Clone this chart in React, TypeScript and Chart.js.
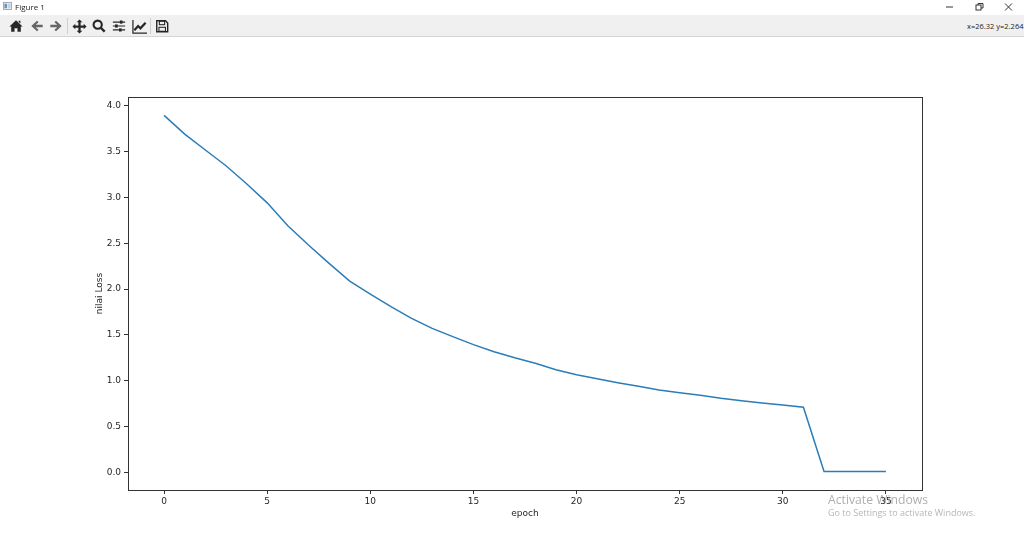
import React, { useEffect, useRef } from "react";
import { Chart, registerables } from "chart.js";

Chart.register(...registerables);

const epochs = [0, 1, 2, 3, 4, 5, 6, 7, 8, 9, 10, 11, 12, 13, 14, 15, 16, 17, 18, 19, 20, 21, 22, 23, 24, 25, 26, 27, 28, 29, 30, 31, 32, 33, 34, 35];
const lossValues = [3.895, 3.69, 3.517, 3.345, 3.148, 2.94, 2.69, 2.48, 2.28, 2.086, 1.945, 1.807, 1.68, 1.571, 1.48, 1.393, 1.316, 1.25, 1.19, 1.12, 1.065, 1.02, 0.978, 0.938, 0.898, 0.868, 0.84, 0.807, 0.78, 0.756, 0.734, 0.71, 0.01, 0.008, 0.008, 0.008];
const xTicks = [0, 5, 10, 15, 20, 25, 30, 35];
const yTicks = [0, 0.5, 1, 1.5, 2, 2.5, 3, 3.5, 4];
const xLabel = "epoch";
const yLabel = "nilai Loss";

const font = "'DejaVu Sans', sans-serif";
const ink = "#333333";

const framePlugin = {
  id: "frame",
  afterDraw(chart: any) {
    const { ctx, chartArea: a } = chart;
    ctx.save();
    ctx.strokeStyle = ink;
    ctx.lineWidth = 1;
    ctx.strokeRect(Math.round(a.left) + 0.5, Math.round(a.top) + 0.5, Math.round(a.right - a.left), Math.round(a.bottom - a.top));
    ctx.restore();
  },
};

const iconStyle = (left: number, size = 14): React.CSSProperties => ({ position: "absolute", left, top: 26 - size / 2, width: size, height: size });

function Toolbar() {
  const c = "#262626";
  return (
    <>
      <div style={{ position: "absolute", left: 0, top: 15, width: 1024, height: 21, background: "#f0f0f0", borderBottom: "1px solid #d4d4d4" }} />
      <svg style={{ position: "absolute", left: 3, top: 2, width: 9, height: 8 }} viewBox="0 0 10 9">
        <rect x="0.5" y="0.5" width="9" height="8" fill="#e8eef4" stroke="#9aa6b2" />
        <rect x="1.5" y="2" width="3" height="5" fill="#6d94b8" />
        <rect x="5.5" y="2" width="3" height="5" fill="#c8d0d8" />
      </svg>
      <div style={{ position: "absolute", left: 15, top: 1, font: "8px 'Open Sans', sans-serif", color: "#222", lineHeight: "11px" }}>Figure 1</div>
      <svg style={iconStyle(9)} viewBox="0 0 16 16"><path d="M8 1.5 L15.5 8.5 L13.5 8.5 L13.5 14.5 L9.7 14.5 L9.7 10.5 L6.3 10.5 L6.3 14.5 L2.5 14.5 L2.5 8.5 L0.5 8.5 Z M11 2 h2 v3 l-2 -2 Z" fill={c} /></svg>
      <svg style={iconStyle(30)} viewBox="0 0 16 16"><path d="M1.5 8 L8 2 L9.8 3.8 L6.6 6.7 L14.5 6.7 L14.5 9.3 L6.6 9.3 L9.8 12.2 L8 14 Z" fill="#666" /></svg>
      <svg style={iconStyle(49)} viewBox="0 0 16 16"><path d="M14.5 8 L8 2 L6.2 3.8 L9.4 6.7 L1.5 6.7 L1.5 9.3 L9.4 9.3 L6.2 12.2 L8 14 Z" fill="#666" /></svg>
      <svg style={iconStyle(72, 15)} viewBox="0 0 16 16"><path d="M8 0.5 L11 3.5 L9.2 3.5 L9.2 6.8 L12.5 6.8 L12.5 5 L15.5 8 L12.5 11 L12.5 9.2 L9.2 9.2 L9.2 12.5 L11 12.5 L8 15.5 L5 12.5 L6.8 12.5 L6.8 9.2 L3.5 9.2 L3.5 11 L0.5 8 L3.5 5 L3.5 6.8 L6.8 6.8 L6.8 3.5 L5 3.5 Z" fill={c} /></svg>
      <svg style={iconStyle(92)} viewBox="0 0 16 16"><circle cx="6.5" cy="6.5" r="4.7" fill="none" stroke={c} strokeWidth="2.4" /><path d="M10 10 L14.5 14.5" stroke={c} strokeWidth="2.8" /></svg>
      <svg style={iconStyle(112)} viewBox="0 0 16 16"><path d="M1 3.5 H15 M1 8 H15 M1 12.5 H15" stroke={c} strokeWidth="1.3" /><rect x="9" y="1.7" width="3" height="3.6" fill={c} /><rect x="3.5" y="6.2" width="3" height="3.6" fill={c} /><rect x="8" y="10.7" width="3" height="3.6" fill={c} /></svg>
      <svg style={iconStyle(132, 15)} viewBox="0 0 16 16"><path d="M1 1 V15 H16" fill="none" stroke={c} strokeWidth="1.3" /><path d="M2.5 12 L6.5 7.5 L9 10 L14.5 4" fill="none" stroke={c} strokeWidth="2.4" /></svg>
      <svg style={iconStyle(155)} viewBox="0 0 16 16"><path d="M2 2 H12 L14.5 4.5 V14.5 H2 Z" fill="none" stroke={c} strokeWidth="1.6" /><rect x="5" y="2.5" width="6" height="4" fill="none" stroke={c} strokeWidth="1.2" /><rect x="4.5" y="9.5" width="7.5" height="4.5" fill="none" stroke={c} strokeWidth="1.2" /></svg>
      <div style={{ position: "absolute", left: 67, top: 18, width: 1, height: 16, background: "#cfcfcf" }} />
      <div style={{ position: "absolute", left: 150, top: 18, width: 1, height: 16, background: "#cfcfcf" }} />
      <div style={{ position: "absolute", left: 967, top: 21, font: "7.5px 'Open Sans', sans-serif", color: "#222", lineHeight: "11px", whiteSpace: "nowrap" }}>x=26.32 y=2.264</div>
      <svg style={{ position: "absolute", left: 946, top: 2, width: 70, height: 10 }} viewBox="0 0 70 10">
        <path d="M0 5 H7" stroke="#333" />
        <rect x="30" y="3" width="5" height="5" fill="none" stroke="#333" />
        <path d="M32 3 V1.5 H37 V6 H35" fill="none" stroke="#333" />
        <path d="M59 1.5 L66 8.5 M66 1.5 L59 8.5" stroke="#333" />
      </svg>
    </>
  );
}

export default function App() {
  const ref = useRef<HTMLCanvasElement>(null);
  useEffect(() => {
    const chart = new Chart(ref.current as HTMLCanvasElement, {
      type: "line",
      data: {
        labels: epochs,
        datasets: [{ data: epochs.map((e, i) => ({ x: e, y: lossValues[i] })), borderColor: "#2a7db8", borderWidth: 1.5, pointRadius: 0, tension: 0, fill: false }],
      },
      options: {
        animation: false,
        responsive: false,
        layout: { padding: { left: 94, top: 97, right: 102, bottom: 26 } },
        plugins: { legend: { display: false }, tooltip: { enabled: false } },
        scales: {
          x: {
            type: "linear",
            min: -1.75,
            max: 36.75,
            afterBuildTicks: (s: any) => { s.ticks = xTicks.map((value) => ({ value })); },
            afterFit: (s: any) => { s.height = 29; },
            grid: { drawOnChartArea: false, tickLength: 4, tickColor: ink, tickWidth: 1 },
            border: { display: false },
            ticks: { autoSkip: false, maxRotation: 0, padding: 2, color: "#262626", font: { family: font, size: 9 } },
            title: { display: true, text: xLabel, color: "#262626", font: { family: font, size: 9 }, padding: { top: 1, bottom: 0 } },
          },
          y: {
            type: "linear",
            min: -0.193,
            max: 4.095,
            afterBuildTicks: (s: any) => { s.ticks = yTicks.map((value) => ({ value })); },
            afterFit: (s: any) => { s.width = 34; },
            grid: { drawOnChartArea: false, tickLength: 4, tickColor: ink, tickWidth: 1 },
            border: { display: false },
            ticks: { autoSkip: false, padding: 3, color: "#262626", font: { family: font, size: 9 }, callback: (v: any) => Number(v).toFixed(1) },
            title: { display: true, text: yLabel, color: "#262626", font: { family: font, size: 9 }, padding: { top: 0, bottom: 0 } },
          },
        },
      },
      plugins: [framePlugin],
    } as any);
    return () => chart.destroy();
  }, []);
  return (
    <div style={{ position: "fixed", left: 0, top: 0, width: 1024, height: 545, overflow: "hidden", background: "#fff" }}>
      <canvas ref={ref} width={1024} height={545} style={{ position: "absolute", left: 0, top: 0, display: "block" }} />
      <Toolbar />
      <div style={{ position: "absolute", left: 828, top: 491, font: "12.2px 'Open Sans', sans-serif", color: "rgba(120,120,120,0.6)", lineHeight: "17px", whiteSpace: "nowrap" }}>Activate Windows</div>
      <div style={{ position: "absolute", left: 828, top: 507, font: "9px 'Open Sans', sans-serif", color: "rgba(120,120,120,0.55)", lineHeight: "12px", whiteSpace: "nowrap" }}>Go to Settings to activate Windows.</div>
    </div>
  );
}
